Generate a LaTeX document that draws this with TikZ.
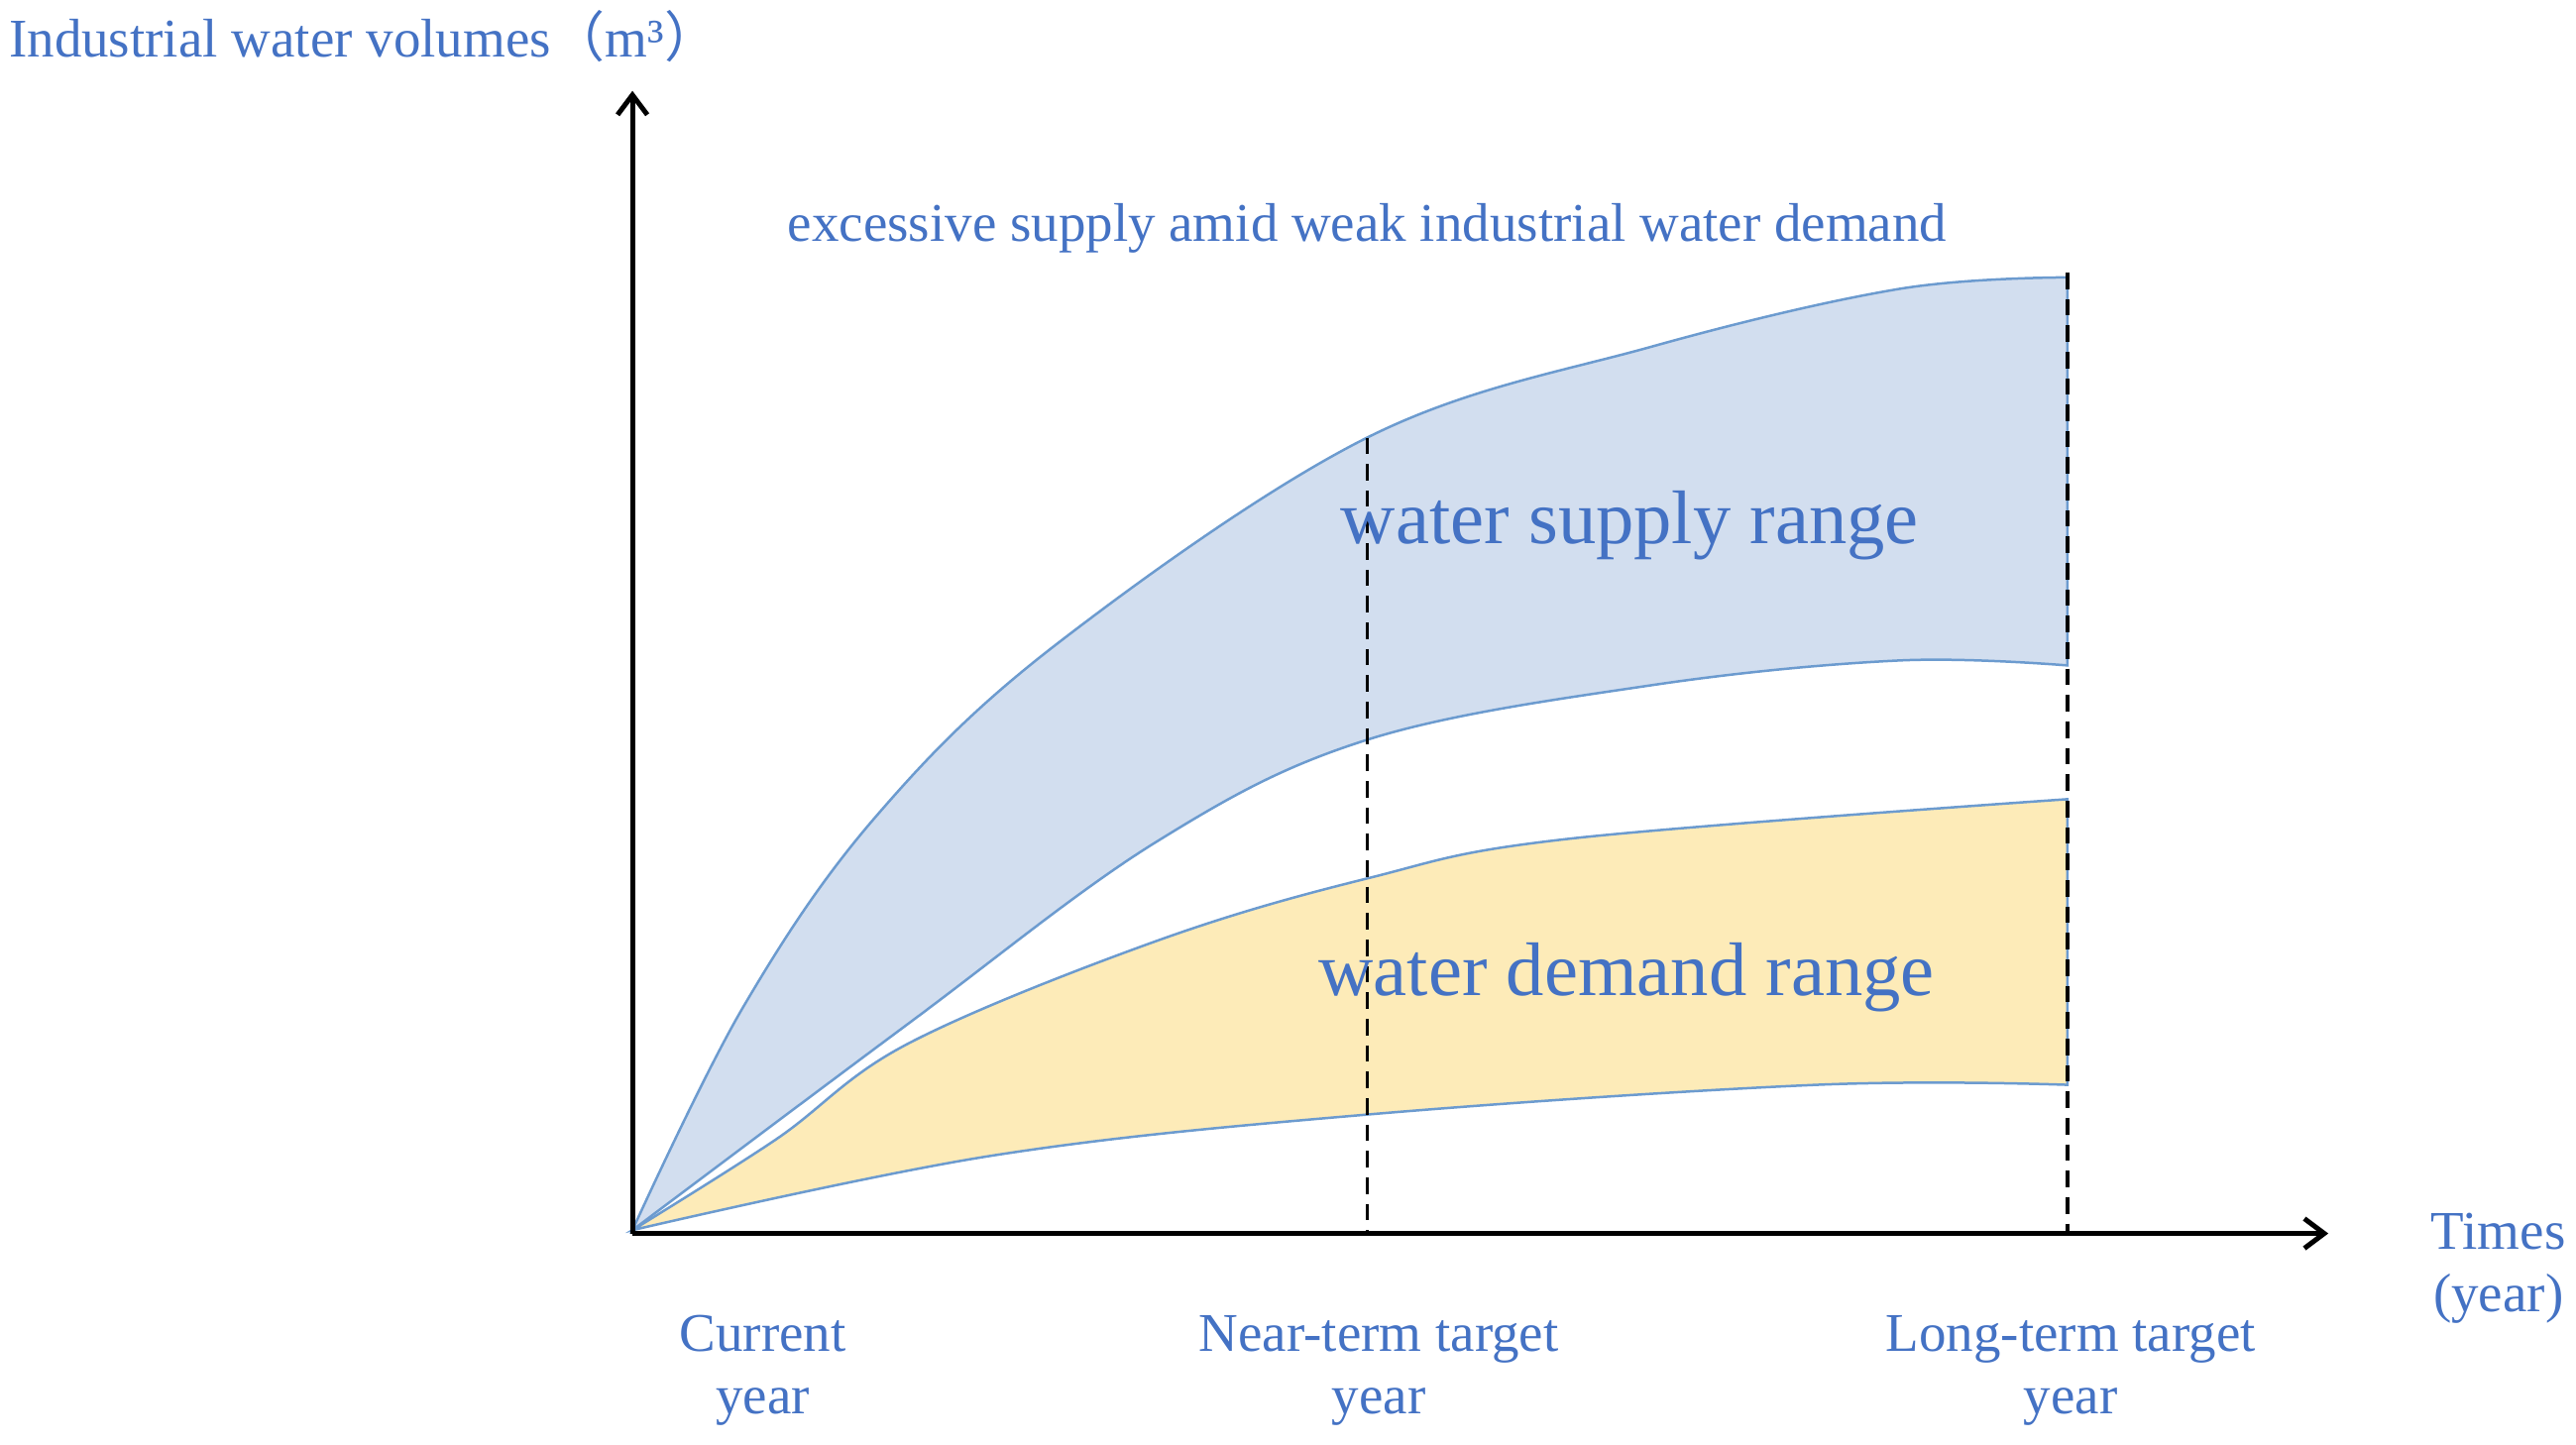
\documentclass[tikz,border=0pt]{standalone}
\usepackage{fontspec}
\usetikzlibrary{arrows.meta}
\setmainfont{Liberation Serif}
\newfontfamily\cjk{Noto Sans CJK SC}
\definecolor{tblue}{HTML}{4472C4}
\definecolor{sline}{HTML}{6C9BCF}
\definecolor{sfill}{HTML}{D2DEEF}
\definecolor{dfill}{HTML}{FDEBB8}
\begin{document}
\begin{tikzpicture}[x=1pt,y=-1pt,
  lbl/.style={text=tblue,font=\fontsize{33}{38}\selectfont,align=center},
  big/.style={text=tblue,font=\fontsize{46}{50}\selectfont},
  axis/.style={line width=3pt,-{Straight Barb[length=12pt,width=18pt]}},
  band/.style={draw=sline,line width=1.5pt}]
\useasboundingbox (0,0) rectangle (1560,875);
\fill[sfill,band] plot[smooth,tension=0.6] coordinates {(383,745) (450,610) (530,495) (640,390) (828,265) (1000,210) (1150,175) (1252,168)}
 -- (1252,403) -- plot[smooth,tension=0.6] coordinates {(1252,403) (1150,400) (1000,415) (828,448) (700,510) (550,620) (383,745)} -- cycle;
\fill[dfill,band] plot[smooth,tension=0.6] coordinates {(383,745) (470,690) (550,632) (700,570) (828,532) (950,508) (1252,484)}
 -- (1252,657) -- plot[smooth,tension=0.6] coordinates {(1252,657) (1100,657) (828,675) (600,700) (383,745)} -- cycle;
\coordinate (o) at (383,747);
\coordinate (ytop) at (383,55);
\coordinate (xend) at (1410,747);
\coordinate (n1) at (828,265); \coordinate (n2) at (828,747);
\coordinate (l1) at (1252,165); \coordinate (l2) at (1252,747);
\draw[dashed,line width=2pt,dash pattern=on 10pt off 6pt] (n1) -- (n2);
\draw[dashed,line width=2pt,dash pattern=on 10pt off 6pt] (l1) -- (l2);
\draw[axis] (o) -- (ytop);
\draw[axis] (o) -- (xend);
\node[lbl,anchor=west] (t) at (2,22) {Industrial water volumes{\cjk（}m³{\cjk）}};
\node[lbl] (ex) at (828,138) {excessive supply amid weak industrial water demand};
\node[big] (s) at (987,318) {water supply range};
\node[big] (d) at (985,592) {water demand range};
\node[lbl] (c) at (462,830) {Current\\year};
\node[lbl] (nt) at (835,830) {Near-term target\\year};
\node[lbl] (lt) at (1254,830) {Long-term target\\year};
\node[lbl] (tm) at (1513,768) {Times\\(year)};
\end{tikzpicture}
\end{document}
